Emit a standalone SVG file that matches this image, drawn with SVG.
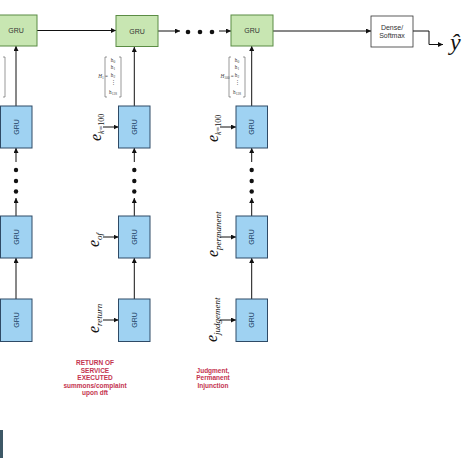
<svg xmlns="http://www.w3.org/2000/svg" width="474" height="474" viewBox="0 0 474 474">
<defs>
<marker id="ah" viewBox="0 0 10 10" refX="10" refY="5" markerWidth="5" markerHeight="5" orient="auto" markerUnits="userSpaceOnUse">
<path d="M0,0 L10,5 L0,10 z" fill="#111"/>
</marker>
</defs>
<style>
.green{fill:#c8e6b2;stroke:#5b8c44;stroke-width:1}
.blue{fill:#9fd2f2;stroke:#2e4a66;stroke-width:1}
.dense{fill:#fff;stroke:#333;stroke-width:0.8}
.lbl{font-family:"Liberation Sans",Arial,sans-serif;font-size:7px;text-anchor:middle}
.glbl{fill:#333}
.blbl{fill:#1d3f63}
.conn{stroke:#111;stroke-width:1;fill:none}
.dot{fill:#111}
.red{font-family:"Liberation Sans",Arial,sans-serif;font-size:6.5px;font-weight:bold;fill:#c4344f;text-anchor:middle}
.emb{font-family:"Liberation Serif","Times New Roman",serif;fill:#111}
.mat{font-family:"Liberation Serif","Times New Roman",serif;font-size:5.2px;fill:#444;text-anchor:middle}
.brk{stroke:#555;stroke-width:0.6;fill:none}
</style>
<rect width="474" height="474" fill="#fff"/>

<g id="connectors">
<line class="conn" x1="37" y1="30.5" x2="116" y2="30.5" marker-end="url(#ah)"/>
<line class="conn" x1="158" y1="31" x2="180" y2="31" marker-end="url(#ah)"/>
<circle class="dot" cx="188" cy="32" r="2.3"/>
<circle class="dot" cx="200" cy="32" r="2.3"/>
<circle class="dot" cx="212" cy="32" r="2.3"/>
<line class="conn" x1="219" y1="31" x2="231" y2="31" marker-end="url(#ah)"/>
<line class="conn" x1="273" y1="31" x2="371" y2="31" marker-end="url(#ah)"/>
<path class="conn" d="M413,31 H429 V44.5 H443" marker-end="url(#ah)"/>

<line class="conn" x1="16" y1="106" x2="16" y2="46" marker-end="url(#ah)"/>
<line class="conn" x1="16" y1="162" x2="16" y2="148" marker-end="url(#ah)"/>
<circle class="dot" cx="16" cy="170" r="2.2"/>
<circle class="dot" cx="16" cy="181" r="2.2"/>
<circle class="dot" cx="16" cy="191.5" r="2.2"/>
<line class="conn" x1="16" y1="216" x2="16" y2="198" marker-end="url(#ah)"/>
<line class="conn" x1="16" y1="299" x2="16" y2="258" marker-end="url(#ah)"/>

<line class="conn" x1="134.3" y1="106" x2="134.3" y2="47" marker-end="url(#ah)"/>
<line class="conn" x1="134.3" y1="162" x2="134.3" y2="148" marker-end="url(#ah)"/>
<circle class="dot" cx="134.3" cy="170" r="2.2"/>
<circle class="dot" cx="134.3" cy="181" r="2.2"/>
<circle class="dot" cx="134.3" cy="191.5" r="2.2"/>
<line class="conn" x1="134.3" y1="216" x2="134.3" y2="198" marker-end="url(#ah)"/>
<line class="conn" x1="134.3" y1="299" x2="134.3" y2="258" marker-end="url(#ah)"/>

<line class="conn" x1="251.7" y1="106" x2="251.7" y2="46" marker-end="url(#ah)"/>
<line class="conn" x1="251.7" y1="162" x2="251.7" y2="148" marker-end="url(#ah)"/>
<circle class="dot" cx="251.7" cy="170" r="2.2"/>
<circle class="dot" cx="251.7" cy="181" r="2.2"/>
<circle class="dot" cx="251.7" cy="191.5" r="2.2"/>
<line class="conn" x1="251.7" y1="216" x2="251.7" y2="198" marker-end="url(#ah)"/>
<line class="conn" x1="251.7" y1="299" x2="251.7" y2="258" marker-end="url(#ah)"/>

<line class="conn" x1="103" y1="127" x2="118.5" y2="127" marker-end="url(#ah)"/>
<line class="conn" x1="103" y1="237" x2="118.5" y2="237" marker-end="url(#ah)"/>
<line class="conn" x1="103" y1="320" x2="118.5" y2="320" marker-end="url(#ah)"/>
<line class="conn" x1="220" y1="127" x2="236" y2="127" marker-end="url(#ah)"/>
<line class="conn" x1="220" y1="237" x2="236" y2="237" marker-end="url(#ah)"/>
<line class="conn" x1="220" y1="320" x2="236" y2="320" marker-end="url(#ah)"/>
</g>

<g id="gru-top-0"><rect class="green" x="-5" y="15" width="42" height="31"/><text class="lbl glbl" x="16" y="33">GRU</text></g>
<g id="gru-top-1"><rect class="green" x="116" y="15.5" width="42" height="31"/><text class="lbl glbl" x="137" y="33.5">GRU</text></g>
<g id="gru-top-2"><rect class="green" x="231" y="15" width="42" height="31"/><text class="lbl glbl" x="252" y="33">GRU</text></g>
<g id="dense"><rect class="dense" x="371" y="16" width="42" height="31"/>
<text class="lbl glbl" x="392" y="29.5" font-size="6.5">Dense/</text>
<text class="lbl glbl" x="392" y="37.5" font-size="6.5">Softmax</text></g>
<g id="yhat"><text class="emb" x="450" y="50" font-size="24" font-style="italic">ŷ</text></g>

<g id="gru-c0-r1"><rect class="blue" x="0.5" y="106" width="31.5" height="42"/><text class="lbl blbl" transform="translate(18.6,127) rotate(-90)">GRU</text></g>
<g id="gru-c0-r2"><rect class="blue" x="0.5" y="216" width="31.5" height="42"/><text class="lbl blbl" transform="translate(18.6,237) rotate(-90)">GRU</text></g>
<g id="gru-c0-r3"><rect class="blue" x="0.5" y="299" width="31.5" height="42.5"/><text class="lbl blbl" transform="translate(18.6,320) rotate(-90)">GRU</text></g>
<g id="gru-c1-r1"><rect class="blue" x="118.5" y="106" width="31.5" height="42"/><text class="lbl blbl" transform="translate(136.8,127) rotate(-90)">GRU</text></g>
<g id="gru-c1-r2"><rect class="blue" x="118.5" y="216" width="31.5" height="42"/><text class="lbl blbl" transform="translate(136.8,237) rotate(-90)">GRU</text></g>
<g id="gru-c1-r3"><rect class="blue" x="118.5" y="299" width="31.5" height="42.5"/><text class="lbl blbl" transform="translate(136.8,320) rotate(-90)">GRU</text></g>
<g id="gru-c2-r1"><rect class="blue" x="236" y="106" width="31.5" height="42"/><text class="lbl blbl" transform="translate(254.3,127) rotate(-90)">GRU</text></g>
<g id="gru-c2-r2"><rect class="blue" x="236" y="216" width="31.5" height="42"/><text class="lbl blbl" transform="translate(254.3,237) rotate(-90)">GRU</text></g>
<g id="gru-c2-r3"><rect class="blue" x="236" y="299" width="31.5" height="42.5"/><text class="lbl blbl" transform="translate(254.3,320) rotate(-90)">GRU</text></g>

<g id="emb-labels">
<text class="emb" transform="translate(101,141) rotate(-90)"><tspan font-size="16" font-style="italic">e</tspan><tspan font-size="8" dy="3"><tspan font-style="italic">k</tspan>=100</tspan></text>
<text class="emb" transform="translate(99,247) rotate(-90)"><tspan font-size="16" font-style="italic">e</tspan><tspan font-size="9" dy="3" font-style="italic">of</tspan></text>
<text class="emb" transform="translate(99,333) rotate(-90)"><tspan font-size="16" font-style="italic">e</tspan><tspan font-size="9" dy="3" font-style="italic">return</tspan></text>
<text class="emb" transform="translate(218,142) rotate(-90)"><tspan font-size="16" font-style="italic">e</tspan><tspan font-size="8" dy="3"><tspan font-style="italic">k</tspan>=100</tspan></text>
<text class="emb" transform="translate(218,257) rotate(-90)"><tspan font-size="16" font-style="italic">e</tspan><tspan font-size="9" dy="3" font-style="italic">permanent</tspan></text>
<text class="emb" transform="translate(217,342) rotate(-90)"><tspan font-size="16" font-style="italic">e</tspan><tspan font-size="9" dy="3" font-style="italic">judgement</tspan></text>
</g>

<g id="matrix-0">
<path class="brk" d="M3,57 H5 V97 H3"/>
</g>
<g id="matrix-1">
<text class="mat" x="103" y="78" text-anchor="end" font-size="5.5"><tspan font-style="italic">H</tspan><tspan font-size="3.5" dy="1">1</tspan><tspan dy="-1"> =</tspan></text>
<path class="brk" d="M107,57 H105 V97 H107 M119,57 H121 V97 H119"/>
<text class="mat" x="113" y="62">h<tspan font-size="3.5" dy="1">0</tspan></text>
<text class="mat" x="113" y="69">h<tspan font-size="3.5" dy="1">1</tspan></text>
<text class="mat" x="113" y="77">h<tspan font-size="3.5" dy="1">2</tspan></text>
<text class="mat" x="113" y="84">⋮</text>
<text class="mat" x="113" y="93.5">h<tspan font-size="3.5" dy="1">128</tspan></text>
</g>
<g id="matrix-2">
<text class="mat" x="227" y="78" text-anchor="end" font-size="5.5"><tspan font-style="italic">H</tspan><tspan font-size="3.5" dy="1">100</tspan><tspan dy="-1"> =</tspan></text>
<path class="brk" d="M231,57 H229 V97 H231 M243,57 H245 V97 H243"/>
<text class="mat" x="237" y="62">h<tspan font-size="3.5" dy="1">0</tspan></text>
<text class="mat" x="237" y="69">h<tspan font-size="3.5" dy="1">1</tspan></text>
<text class="mat" x="237" y="77">h<tspan font-size="3.5" dy="1">2</tspan></text>
<text class="mat" x="237" y="84">⋮</text>
<text class="mat" x="237" y="93.5">h<tspan font-size="3.5" dy="1">128</tspan></text>
</g>

<g id="event-labels">
<text class="red" x="95" y="365">RETURN OF</text>
<text class="red" x="95" y="372.5">SERVICE</text>
<text class="red" x="95" y="380">EXECUTED</text>
<text class="red" x="95" y="387.5">summons/complaint</text>
<text class="red" x="95" y="395">upon dft</text>
<text class="red" x="213" y="372.5">Judgment,</text>
<text class="red" x="213" y="380">Permanent</text>
<text class="red" x="213" y="387.5">Injunction</text>
</g>
<rect x="0" y="430" width="3" height="28" fill="#3d5866"/>
</svg>
